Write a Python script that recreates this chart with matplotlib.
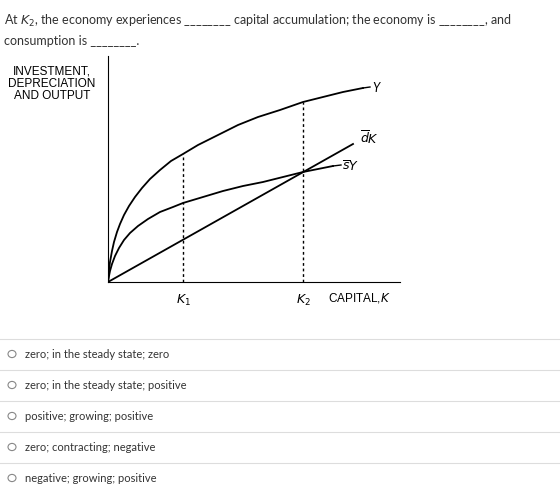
import matplotlib.pyplot as plt
import numpy as np

plt.rcParams['font.family'] = ['Lato', 'DejaVu Sans']

# curve points (capital, value), arbitrary units
y_k = [0, 1, 2, 4, 6, 9, 12, 16, 21, 27, 34, 42, 52, 63, 75, 90, 110, 130, 150, 172, 195, 215, 235, 255]
y_v = [0, 12, 20, 31, 40, 50, 58, 67, 76, 85, 94, 103, 112, 121, 128, 137, 147, 157, 165, 172, 180, 185, 190, 194]
sy_k = [0, 1, 2, 4, 7, 11, 16, 22, 30, 40, 52, 65, 75, 95, 115, 135, 155, 175, 195, 210, 225]
sy_v = [0, 6, 11, 18, 26, 34, 42, 49, 56, 63, 70, 75, 79, 85, 91, 96, 100, 105, 110, 113, 116]
dk_k = [0, 245]
dk_v = [0, 138]
k1, k2 = 75, 195

options = ["zero; in the steady state; zero",
           "zero; in the steady state; positive",
           "positive; growing; positive",
           "zero; contracting; negative",
           "negative; growing; positive"]

W, H = 560, 502
fig = plt.figure(figsize=(W / 100, H / 100), dpi=100)

def fx(px):
    return px / W

def fy(py):
    return 1 - py / H

fig.text(fx(4), fy(21), "At $K_2$, the economy experiences ________ capital accumulation; the economy is ________, and",
         fontsize=9, color='#333', va='center')
fig.text(fx(4), fy(41), "consumption is ________.", fontsize=9, color='#333', va='center')

ax = fig.add_axes([fx(108), fy(283), fx(400) - fx(108), fy(57) - fy(283)])
ax.set_xlim(0, 292)
ax.set_ylim(0, 226)
ax.plot(y_k, y_v, color='black', lw=1.3)
ax.plot(sy_k, sy_v, color='black', lw=1.3)
ax.plot(dk_k, dk_v, color='black', lw=1.3)
for k, top in [(k1, 128), (k2, 180)]:
    ax.plot([k, k], [0, top], color='black', lw=1, ls=(0, (2, 2)))
ax.plot([255, 262], [194, 195], color='black', lw=1)
ax.text(264, 195, 'Y', fontsize=9, fontstyle='italic', va='center')
ax.text(252, 146, r'$\overline{d}K$', fontsize=9, va='center')
ax.plot([225, 233], [116, 117], color='black', lw=1)
ax.text(234, 117, r'$\overline{s}Y$', fontsize=9, va='center')
for s in ['top', 'right']:
    ax.spines[s].set_visible(False)
ax.set_xticks([])
ax.set_yticks([])

fig.text(fx(52), fy(84), "INVESTMENT,\nDEPRECIATION\nAND OUTPUT", fontsize=8.5, ha='center', va='center',
         family=['Liberation Sans', 'DejaVu Sans'], linespacing=1.0)
fig.text(fx(183), fy(300), "$K_1$", fontsize=9, ha='center', va='center')
fig.text(fx(303), fy(300), "$K_2$", fontsize=9, ha='center', va='center')
fig.text(fx(328), fy(298), "CAPITAL,$K$", fontsize=8.5, va='center', family=['Liberation Sans', 'DejaVu Sans'])

for i, opt in enumerate(options):
    yc = 355 + i * 31
    fig.patches.append(plt.Circle((fx(12), fy(yc)), 4 / W, transform=fig.transFigure,
                                  fill=False, ec='#888', lw=0.8))
    fig.text(fx(25), fy(yc), opt, fontsize=8, color='#333', va='center')
    if i < len(options) - 1:
        fig.add_artist(plt.Line2D([0, 1], [fy(yc + 16)] * 2, color='#ddd', lw=0.8))
fig.add_artist(plt.Line2D([0, 1], [fy(340)] * 2, color='#ddd', lw=0.8))

fig.savefig('out.png', dpi=100)
